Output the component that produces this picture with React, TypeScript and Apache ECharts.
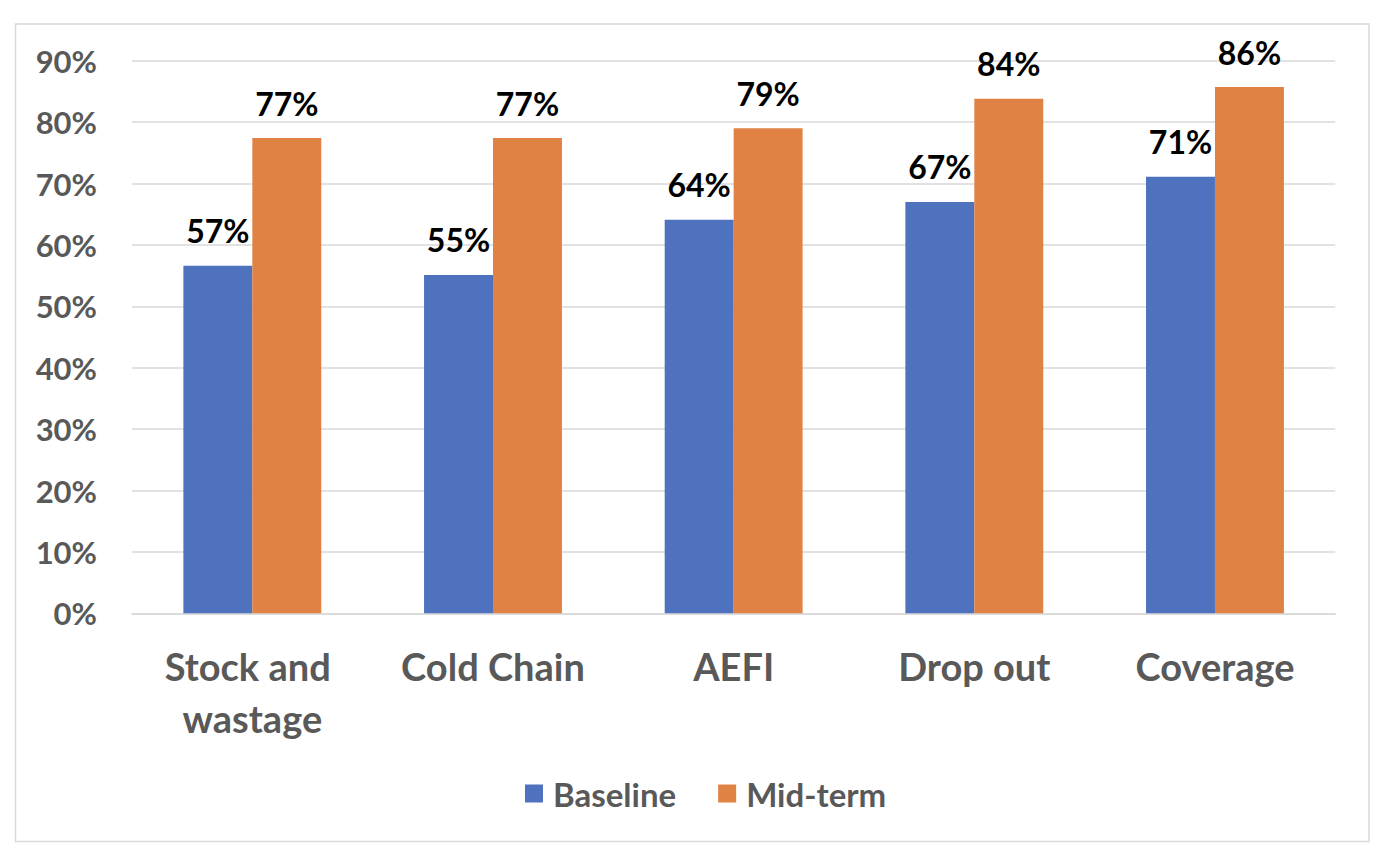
import React, { useEffect, useRef } from "react";
import * as echarts from "echarts";

const categories = ["Stock and wastage", "Cold Chain", "AEFI", "Drop out", "Coverage"];
const baseline = [56.6, 55.1, 64.1, 67.0, 71.1];
const midterm = [77.4, 77.4, 79.0, 83.8, 85.7];
const seriesNames = ["Baseline", "Mid-term"];

const FONT = "Lato";

export default function App() {
  const ref = useRef<HTMLDivElement>(null);
  useEffect(() => {
    document.body.style.margin = "0";
    const chart = echarts.init(ref.current!, null, { renderer: "svg" });
    const labelStyle = {
      show: true,
      position: "top",
      distance: 19,
      color: "#000000",
      fontFamily: FONT,
      fontWeight: "bold",
      fontSize: 32,
      formatter: (p: any) => Math.round(p.value) + "%",
    };
    chart.setOption({
      animation: false,
      backgroundColor: "#ffffff",
      graphic: [
        {
          type: "rect",
          shape: { x: 15.5, y: 24, width: 1353.5, height: 817.5 },
          style: { fill: "none", stroke: "#d9d9d9", lineWidth: 1.5 },
          silent: true,
          z: -1,
        },
      ],
      grid: { left: 132, right: 48.7, top: 60.7, bottom: 242.7 },
      legend: {
        data: seriesNames,
        left: 520,
        top: 772,
        itemWidth: 18,
        itemHeight: 18,
        itemGap: 42,
        icon: "rect",
        textStyle: {
          color: "#595959",
          fontFamily: FONT,
          fontWeight: "bold",
          fontSize: 33,
          padding: [0, 0, 0, 5],
        },
      },
      xAxis: {
        type: "category",
        data: categories,
        axisLine: { lineStyle: { color: "#d9d9d9", width: 1.5 } },
        axisTick: { show: false },
        axisLabel: {
          color: "#595959",
          fontFamily: FONT,
          fontWeight: "bold",
          fontSize: 38,
          lineHeight: 52,
          margin: 27,
          width: 230,
          overflow: "break",
          interval: 0,
        },
      },
      yAxis: {
        type: "value",
        min: 0,
        max: 90,
        interval: 10,
        axisLine: { show: false },
        axisTick: { show: false },
        splitLine: { lineStyle: { color: "#d9d9d9", width: 1.5 } },
        axisLabel: {
          color: "#595959",
          fontFamily: FONT,
          fontWeight: "bold",
          fontSize: 31,
          margin: 35,
          formatter: (v: number) => v + "%",
        },
      },
      series: [
        {
          name: seriesNames[0],
          type: "bar",
          data: baseline,
          barGap: "0%",
          barCategoryGap: "42.7%",
          itemStyle: { color: "#4E72BE" },
          label: labelStyle,
        },
        {
          name: seriesNames[1],
          type: "bar",
          data: midterm,
          barGap: "0%",
          barCategoryGap: "42.7%",
          itemStyle: { color: "#DF8244" },
          label: labelStyle,
        },
      ],
    });
    return () => chart.dispose();
  }, []);
  return <div ref={ref} style={{ width: 1384, height: 856 }} />;
}
